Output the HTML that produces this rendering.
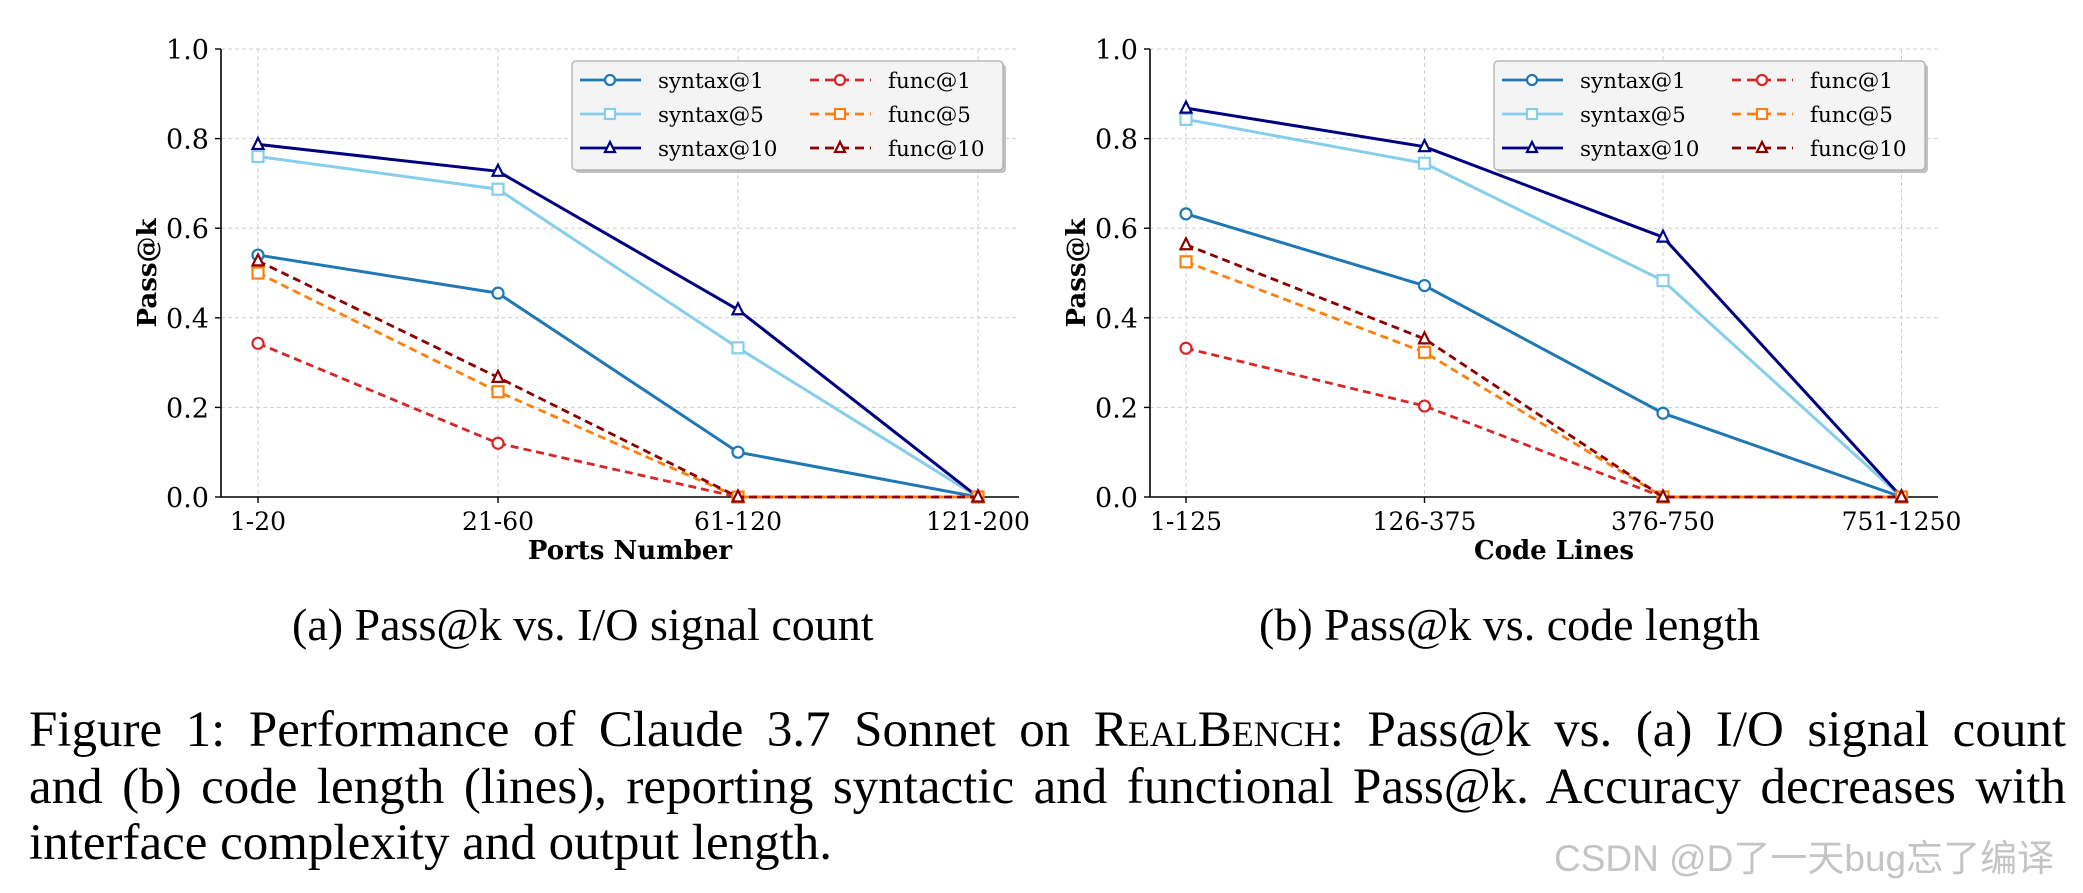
<!DOCTYPE html>
<html><head><meta charset="utf-8">
<style>
html,body{margin:0;padding:0;background:#fff;width:2083px;height:893px;overflow:hidden;position:relative}
svg{position:absolute;left:0;top:0}
.sub{position:absolute;font-family:"Liberation Serif",serif;font-size:46px;color:#000;white-space:nowrap}
.fl{position:absolute;left:29px;width:2037px;font-family:"Liberation Serif",serif;font-size:51px;line-height:56px;text-align:justify;text-align-last:justify;color:#000;white-space:nowrap}
.last{text-align-last:left}
.sc{font-variant:small-caps}
.wm{position:absolute;left:1554px;top:828px;font-family:"Liberation Sans","Noto Sans CJK SC",sans-serif;font-size:37px;color:#c4c4c4;white-space:nowrap}
</style></head>
<body>
<svg id="chart" width="2083" height="893" xmlns="http://www.w3.org/2000/svg"></svg>
<div class="sub" style="left:292px;top:598px">(a) Pass@k vs. I/O signal count</div>
<div class="sub" style="left:1259px;top:598px">(b) Pass@k vs. code length</div>
<div>
<div class="fl" style="top:702px">Figure 1: Performance of Claude 3.7 Sonnet on <span class="sc">RealBench</span>: Pass@k vs. (a) I/O signal count</div>
<div class="fl" style="top:759px">and (b) code length (lines), reporting syntactic and functional Pass@k. Accuracy decreases with</div>
<div class="fl last" style="top:815px">interface complexity and output length.</div>
</div>
<div class="wm">CSDN @D了一天bug忘了编译</div>
<script>
const catsA = ["1-20","21-60","61-120","121-200"];
const catsB = ["1-125","126-375","376-750","751-1250"];
const yTicks = [0,0.2,0.4,0.6,0.8,1.0];
const seriesNames = ["syntax@1","syntax@5","syntax@10","func@1","func@5","func@10"];
const a_syntax1 = [0.54,0.455,0.10,0];
const a_syntax5 = [0.76,0.687,0.333,0];
const a_syntax10 = [0.787,0.727,0.418,0];
const a_func1 = [0.343,0.12,0,0];
const a_func5 = [0.50,0.235,0,0];
const a_func10 = [0.527,0.267,0,0];
const b_syntax1 = [0.632,0.472,0.187,0];
const b_syntax5 = [0.843,0.745,0.483,0];
const b_syntax10 = [0.868,0.782,0.58,0];
const b_func1 = [0.332,0.203,0,0];
const b_func5 = [0.525,0.323,0,0];
const b_func10 = [0.563,0.353,0,0];

const NS="http://www.w3.org/2000/svg";
const svg=document.getElementById('chart');
const styles=[
 {c:"#1f77b4",dash:null,m:"o"},{c:"#87ceeb",dash:null,m:"s"},{c:"#000080",dash:null,m:"t"},
 {c:"#d62728",dash:"8,5",m:"o"},{c:"#ff7f0e",dash:"8,5",m:"s"},{c:"#8b0000",dash:"8,5",m:"t"}];
function el(tag,attrs,parent){const e=document.createElementNS(NS,tag);for(const k in attrs)e.setAttribute(k,attrs[k]);(parent||svg).appendChild(e);return e;}
function marker(g,type,x,y,c,r){
  let e;
  if(type==="o") e=el('circle',{cx:x,cy:y,r:r,fill:'#fff',stroke:c,'stroke-width':2.2},g);
  else if(type==="s") e=el('rect',{x:x-r,y:y-r,width:2*r,height:2*r,fill:'#fff',stroke:c,'stroke-width':2.2},g);
  else e=el('polygon',{points:`${x},${y-r-1} ${x-r},${y+r-1} ${x+r},${y+r-1}`,fill:'#fff',stroke:c,'stroke-width':2.2},g);
  return e;
}
function panel(id,x0,xEnd,xFirst,xStep,cats,data,xlabel,ylabelX,legX){
  const yTop=49,yBot=497;
  const X=i=>xFirst+i*xStep;
  const Y=v=>yBot-(v)*(yBot-yTop);
  const g=el('g',{});
  
  
  yTicks.forEach(t=>{const l=el('line',{x1:x0,x2:xEnd,y1:Y(t),y2:Y(t),stroke:'#cfcfcf','stroke-width':1,'stroke-dasharray':'4,3'},g);});
  cats.forEach((c,i)=>{const l=el('line',{x1:X(i),x2:X(i),y1:yTop,y2:yBot,stroke:'#cfcfcf','stroke-width':1,'stroke-dasharray':'4,3'},g);});
  const ya=el('line',{x1:x0,x2:x0,y1:yTop,y2:yBot,stroke:'#000','stroke-width':1.6},g);
  
  const xa=el('line',{x1:x0,x2:xEnd,y1:yBot,y2:yBot,stroke:'#000','stroke-width':1.6},g);
  
  yTicks.forEach(t=>{
    el('line',{x1:x0-6,x2:x0,y1:Y(t),y2:Y(t),stroke:'#000','stroke-width':1.4},g);
    const tx=el('text',{x:x0-12,y:Y(t)+10,'text-anchor':'end','font-family':'DejaVu Serif, serif','font-size':27,fill:'#000'},g);
    tx.textContent=t.toFixed(1);
    
  });
  cats.forEach((c,i)=>{
    el('line',{x1:X(i),x2:X(i),y1:yBot,y2:yBot+6,stroke:'#000','stroke-width':1.4},g);
    const tx=el('text',{x:X(i),y:530,'text-anchor':'middle','font-family':'DejaVu Serif, serif','font-size':25,fill:'#000'},g);
    tx.textContent=c;
    
  });
  const xl=el('text',{x:(x0+xEnd)/2+10,y:559,'text-anchor':'middle','font-family':'DejaVu Serif, serif','font-size':26,'font-weight':'bold',fill:'#000'},g);
  xl.textContent=xlabel;
  const yl=el('text',{x:0,y:0,'text-anchor':'middle','font-family':'DejaVu Serif, serif','font-size':26,'font-weight':'bold',fill:'#000',transform:`translate(${ylabelX},273) rotate(-90)`},g);
  yl.textContent="Pass@k";
  data.forEach((vals,si)=>{
    const s=styles[si];
    const sg=el('g',{},g);
    
    
    const pts=vals.map((v,i)=>X(i)+','+Y(v)).join(' ');
    const a={points:pts,fill:'none',stroke:s.c,'stroke-width':s.dash?2.8:3};
    if(s.dash)a['stroke-dasharray']=s.dash;
    el('polyline',a,sg);
    vals.forEach((v,i)=>{const m=marker(sg,s.m,X(i),Y(v),s.c,5.5);});
  });
  const lg=el('g',{},g);
  
  el('rect',{x:legX+3,y:64,width:431,height:109,rx:4,fill:'#9a9a9a',opacity:0.6},lg);
  el('rect',{x:legX,y:61,width:431,height:109,rx:4,fill:'#f4f4f4',stroke:'#aaa','stroke-width':1.2},lg);
  seriesNames.forEach((n,si)=>{
    const s=styles[si];
    const col=si<3?0:1,row=si%3;
    const hx=legX+8+col*230,hy=80+row*34;
    const eg=el('g',{},lg);
    
    const a={x1:hx,x2:hx+61,y1:hy,y2:hy,stroke:s.c,'stroke-width':2.8};
    if(s.dash)a['stroke-dasharray']='9,6';
    el('line',a,eg);
    marker(eg,s.m,hx+30,hy,s.c,5);
    const t=el('text',{x:hx+78,y:hy+8,'font-family':'DejaVu Serif, serif','font-size':21.5,fill:'#000'},eg);
    t.textContent=n;
  });
}
panel('ports',221,1019,258,240,catsA,[a_syntax1,a_syntax5,a_syntax10,a_func1,a_func5,a_func10],"Ports Number",156,572);
panel('lines',1150,1938,1186,238.5,catsB,[b_syntax1,b_syntax5,b_syntax10,b_func1,b_func5,b_func10],"Code Lines",1085,1494);
</script>
</body></html>
